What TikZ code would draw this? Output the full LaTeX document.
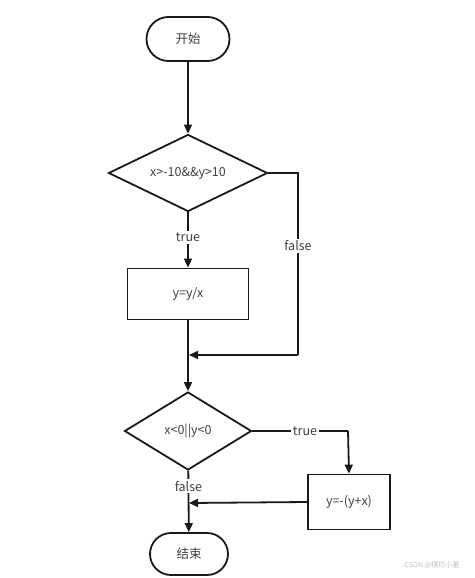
\documentclass[tikz,border=0pt]{standalone}
\usepackage{fontspec}
\setmainfont{Noto Sans CJK SC}
\usetikzlibrary{shapes.geometric,shapes.misc,arrows.meta}
\begin{document}
\begin{tikzpicture}[x=1pt,y=-1pt,
  every node/.style={font=\fontsize{12.5}{14}\selectfont, text=black!75},
  ln/.style={line width=1.8pt, draw=black!90},
  arr/.style={ln,-{Triangle[length=9pt,width=8pt]}},
  pill/.style={ln,rounded rectangle,minimum width=#1,minimum height=44pt,inner sep=0pt},
  dia/.style={ln,diamond,inner sep=0pt},
  box/.style={ln,rectangle,inner sep=0pt},
  lbl/.style={fill=white,inner sep=2pt}]
\useasboundingbox (0,0) rectangle (474,578);
\node[pill=83pt] (start) at (188,39) {开始};
\node[dia,minimum width=159pt,minimum height=77pt,shape aspect=2.06] (d1) at (188,173) {x>-10\&\&y>10};
\node[box,minimum width=121pt,minimum height=51pt] (b1) at (188,294) {y=y/x};
\node[dia,minimum width=127pt,minimum height=78pt,shape aspect=1.63] (d2) at (188,431) {x<0||y<0};
\node[box,minimum width=82pt,minimum height=55pt] (b2) at (349,502) {y=-(y+x)};
\node[pill=78pt,minimum height=42pt] (end) at (189,554) {结束};
\coordinate (m1) at (188,355);
\coordinate (m2) at (188,503);
\coordinate (fr) at (298,173);
\coordinate (tr) at (348,431);
\draw[arr] (start) -- (d1);
\draw[arr] (d1) -- node[lbl,pos=0.45]{true} (b1);
\draw[ln] (d1.east) -- (fr) -- node[lbl,pos=0.4]{false} (fr |- m1);
\draw[arr] (fr |- m1) -- ([xshift=1pt]m1);
\draw[arr] (b1) -- (d2);
\draw[ln] (d2.east) -- node[lbl,pos=0.55]{true} (tr);
\draw[arr] (tr) -- (b2.north);
\draw[arr] (b2.west) -- ([xshift=1pt]m2);
\draw[arr] (d2) -- node[lbl,pos=0.25]{false} (end);
\node[font=\fontsize{7}{8}\selectfont, text=black!25] (wm) at (432,565) {CSDN @摆烂小董};
\end{tikzpicture}
\end{document}
